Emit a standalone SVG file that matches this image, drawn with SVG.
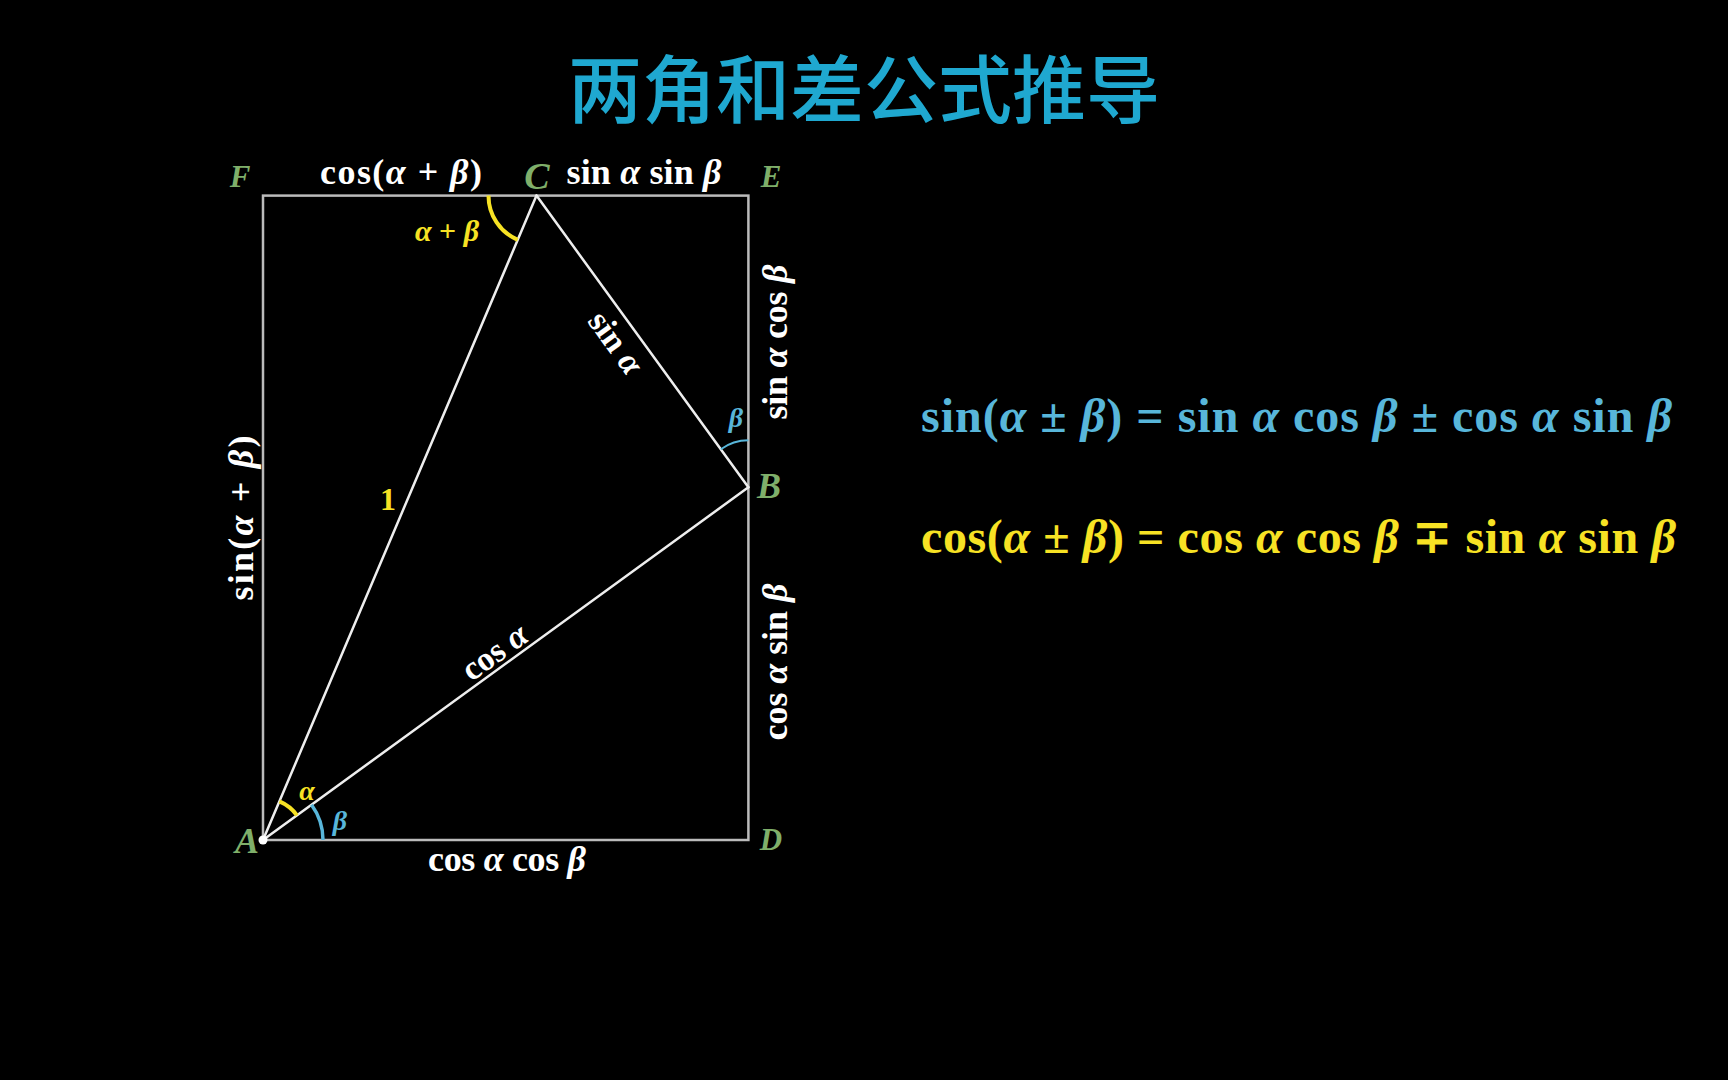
<svg xmlns="http://www.w3.org/2000/svg" width="1728" height="1080" viewBox="0 0 1728 1080">
<style>
.m{font-family:"Liberation Serif","DejaVu Serif",serif;font-weight:bold;}
.i{font-style:italic;}
.w{fill:#FFFFFF;}
.y{fill:#F7E224;}
.b{fill:#58B6DA;}
.g{fill:#7FAF6A;font-family:"Liberation Serif","DejaVu Serif",serif;font-weight:bold;font-style:italic;}
.rect{fill:none;stroke:#BBBBBB;stroke-width:2.5;}
.seg{stroke:#EEEEEE;stroke-width:2.5;fill:none;stroke-linecap:round;}
.arcY{fill:none;stroke:#F7E224;stroke-width:4;}
.arcB{fill:none;stroke:#58B6DA;stroke-width:3.5;}
.arcB2{fill:none;stroke:#58B6DA;stroke-width:2;}
</style>
<rect x="0" y="0" width="1728" height="1080" fill="#000000"/>
<text id="title" x="864" y="117" text-anchor="middle" font-family="'Noto Sans CJK SC','Noto Sans',sans-serif" font-size="74" font-weight="500" fill="#1FA8D0">两角和差公式推导</text>

<g id="connectors">
  <rect class="rect" x="263" y="195.6" width="485.4" height="644.4"/>
  <line class="seg" x1="263" y1="840" x2="536.5" y2="195.6"/>
  <line class="seg" x1="263" y1="840" x2="748.4" y2="487.3"/>
  <line class="seg" x1="536.5" y1="195.6" x2="748.4" y2="487.3"/>
</g>

<g id="angles">
  <path class="arcY" d="M297,815.3 A42,42 0 0 0 279.4,801.3"/>
  <path class="arcB" d="M323,840 A60,60 0 0 0 311.5,804.7"/>
  <path class="arcY" d="M488.5,195.6 A48,48 0 0 0 517.7,239.8"/>
  <path class="arcB2" d="M748.4,440.3 A47,47 0 0 0 720.8,449.3"/>
  <text class="m i y" x="307" y="800" text-anchor="middle" font-size="28">α</text>
  <text class="m i b" x="340" y="830" text-anchor="middle" font-size="28">β</text>
  <text class="m i b" x="736" y="427" text-anchor="middle" font-size="28">β</text>
  <text class="m y" x="447" y="241" text-anchor="middle" font-size="30"><tspan class="i">α</tspan> + <tspan class="i">β</tspan></text>
</g>

<g id="A"><circle cx="263" cy="840" r="4.5" fill="#FFFFFF"/><text class="g" x="247" y="853" text-anchor="middle" font-size="36">A</text></g>
<g id="B"><text class="g" x="769" y="498" text-anchor="middle" font-size="36">B</text></g>
<g id="C"><text class="g" x="537" y="189" text-anchor="middle" font-size="38">C</text></g>
<g id="D"><text class="g" x="771" y="850" text-anchor="middle" font-size="31">D</text></g>
<g id="E"><text class="g" x="771" y="187" text-anchor="middle" font-size="31">E</text></g>
<g id="F"><text class="g" x="240" y="187" text-anchor="middle" font-size="31">F</text></g>

<g id="edge-labels">
  <text class="m w" x="401" y="184" text-anchor="middle" font-size="36" textLength="162">cos(<tspan class="i">α</tspan> + <tspan class="i">β</tspan>)</text>
  <text class="m w" x="644" y="184" text-anchor="middle" font-size="36" textLength="155">sin <tspan class="i">α</tspan> sin <tspan class="i">β</tspan></text>
  <text class="m w" transform="translate(787,342) rotate(-90)" x="0" y="0" text-anchor="middle" font-size="36" textLength="155">sin <tspan class="i">α</tspan> cos <tspan class="i">β</tspan></text>
  <text class="m w" transform="translate(787,662) rotate(-90)" x="0" y="0" text-anchor="middle" font-size="36" textLength="157">cos <tspan class="i">α</tspan> sin <tspan class="i">β</tspan></text>
  <text class="m w" transform="translate(253,518) rotate(-90)" x="0" y="0" text-anchor="middle" font-size="36" textLength="165">sin(<tspan class="i">α</tspan> + <tspan class="i">β</tspan>)</text>
  <text class="m w" x="507" y="871" text-anchor="middle" font-size="36" textLength="158">cos <tspan class="i">α</tspan> cos <tspan class="i">β</tspan></text>
  <text class="m w" transform="translate(501,661) rotate(-36)" x="0" y="0" text-anchor="middle" font-size="34">cos <tspan class="i">α</tspan></text>
  <text class="m w" transform="translate(607,349) rotate(54)" x="0" y="0" text-anchor="middle" font-size="34">sin <tspan class="i">α</tspan></text>
  <text class="m y" x="388" y="510" text-anchor="middle" font-size="32">1</text>
</g>

<g id="formulas">
  <text class="m b" x="921" y="432" font-size="48" textLength="751">sin(<tspan class="i">α</tspan> ± <tspan class="i">β</tspan>) = sin <tspan class="i">α</tspan> cos <tspan class="i">β</tspan> ± cos <tspan class="i">α</tspan> sin <tspan class="i">β</tspan></text>
  <text class="m y" x="921" y="553" font-size="48" textLength="755">cos(<tspan class="i">α</tspan> ± <tspan class="i">β</tspan>) = cos <tspan class="i">α</tspan> cos <tspan class="i">β</tspan> ∓ sin <tspan class="i">α</tspan> sin <tspan class="i">β</tspan></text>
</g>
</svg>
